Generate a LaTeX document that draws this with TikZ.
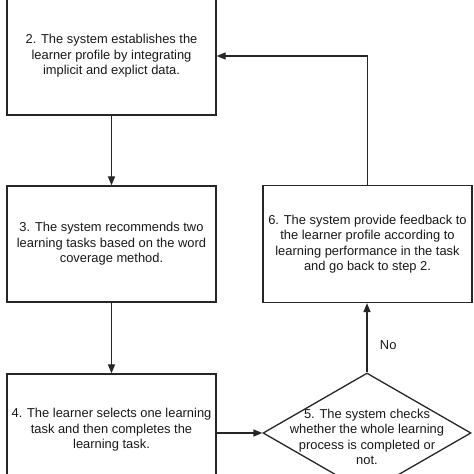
\documentclass[tikz,border=0pt]{standalone}
\usepackage{fontspec}
\setmainfont{Liberation Sans}
\usetikzlibrary{arrows.meta,shapes.geometric}
\begin{document}
\begin{tikzpicture}[x=1pt,y=1pt,
  every node/.style={font=\fontsize{12.9}{15.5}\selectfont, text=black!90},
  stepbox/.style={draw=black!85, line width=1.3pt, rectangle, minimum width=209pt, inner sep=0pt, align=center},
  decision/.style={draw=black!85, line width=1.3pt, diamond, minimum width=208pt, minimum height=120pt, inner sep=0pt},
  conn/.style={draw=black!85, line width=1.3pt, -{Triangle[length=9pt,width=7pt]}}
]
\useasboundingbox (0,0) rectangle (474,474);
\clip (0,0) rectangle (474,474);
\fill[white] (0,0) rectangle (474,474);
\node[stepbox, minimum height=118pt] (b2) at (111.5,418) {2. The system establishes the\\learner profile by integrating\\implicit and explict data.};
\node[stepbox, minimum height=116pt] (b3) at (111.5,230) {3. The system recommends two\\learning tasks based on the word\\coverage method.};
\node[stepbox, minimum height=112pt] (b4) at (111.5,44) {4. The learner selects one learning\\task and then completes the\\learning task.};
\node[stepbox, minimum height=117pt] (b6) at (367.5,230) {6. The system provide feedback to\\the learner profile according to\\learning performance in the task\\and go back to step 2.};
\node[decision] (d5) at (367,41) {};
\node[align=center, inner sep=0pt] (t5) at (367,37) {5. The system checks\\whether the whole learning\\process is completed or\\not.};
\draw[conn] (b2.south) -- (b3.north);
\draw[conn] (b3.south) -- (b4.north);
\draw[conn] (b4.east |- d5.west) -- (d5.west);
\draw[conn] (d5.north) -- node[right=9pt, pos=0.4] (no) {No} (d5.north |- b6.south);
\draw[conn] (b6.north) -- (b6.north |- b2.east) -- (b2.east);
\end{tikzpicture}
\end{document}
